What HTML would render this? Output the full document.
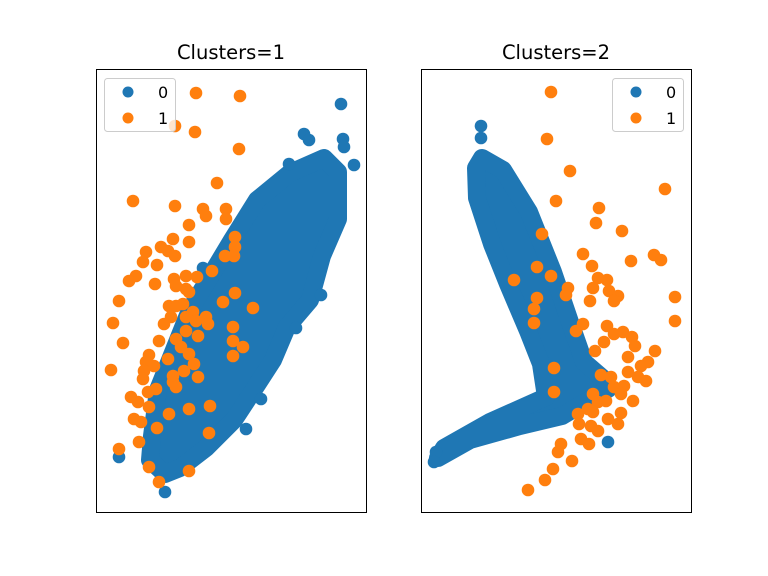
<!DOCTYPE html>
<html><head><meta charset="utf-8"><style>html,body{margin:0;padding:0;background:#fff}svg{display:block}text{font-family:"DejaVu Sans","Liberation Sans",sans-serif}</style></head>
<body>
<svg id="s" width="768" height="576" xmlns="http://www.w3.org/2000/svg">
<rect width="768" height="576" fill="#fff"/>
<g fill="#1f77b4" stroke="#1f77b4" stroke-width="18" stroke-linejoin="round">
<polygon points="150,460 152,436 158,390 190,310 232,240 257,200 290,173 324,158 338,172 338,219 322,256 310,300 287,327 273,360 251,394 234,420 206,448 180,468 165,474"/>
<polygon points="482,158 503,170 529,212 553,272 570,322 584,362 606,381 608,389 582,404 562,416 520,426 470,440 438,458 444,448 490,422 546,397 541,364 528,331 508,284 492,244 477,198 476,168"/>
</g>
<g id="b" fill="#1f77b4"></g>
<g id="o" fill="#ff7f0e"></g>
<rect x="96.5" y="69.5" width="270" height="443" fill="none" stroke="#000" stroke-width="1"/>
<rect x="421.5" y="69.5" width="270" height="443" fill="none" stroke="#000" stroke-width="1"/>
<text x="231" y="59" font-size="19.5" text-anchor="middle">Clusters=1</text>
<text x="556" y="59" font-size="19.5" text-anchor="middle">Clusters=2</text>
<g>
<rect x="104.5" y="78.5" width="71" height="53" rx="3" fill="#fff" fill-opacity="0.8" stroke="#ccc"/>
<circle cx="128" cy="92" r="5.5" fill="#1f77b4"/><circle cx="128" cy="118" r="5.5" fill="#ff7f0e"/>
<text x="158" y="98" font-size="16">0</text><text x="158" y="124" font-size="16">1</text>
<rect x="612.5" y="78.5" width="71" height="53" rx="3" fill="#fff" fill-opacity="0.8" stroke="#ccc"/>
<circle cx="636" cy="92" r="5.5" fill="#1f77b4"/><circle cx="636" cy="118" r="5.5" fill="#ff7f0e"/>
<text x="666" y="98" font-size="16">0</text><text x="666" y="124" font-size="16">1</text>
</g>
</svg>
<script>
var B=[[341,104],[304,134],[309,140],[343,139],[344,147],[354,165],[321,295],[296,328],[119,457],[165,492],[261,399],[246,429],[203,268],[289,164],[481,126],[481,138],[608,442],[436,452],[434,462]];
var O=[[196,93],[240,96],[175,126],[195,132],[239,149],[217,183],[133,201],[175,206],[203,209],[206,216],[226,209],[226,219],[189,225],[173,239],[189,242],[161,247],[168,251],[175,256],[146,252],[143,262],[157,265],[235,237],[235,247],[225,256],[234,256],[212,271],[197,277],[186,276],[174,279],[176,286],[186,289],[189,292],[136,276],[129,281],[155,284],[119,301],[169,306],[176,306],[183,304],[235,293],[223,302],[253,308],[193,312],[186,317],[171,317],[164,324],[196,321],[206,317],[208,324],[186,331],[198,336],[113,323],[123,343],[159,341],[176,339],[181,347],[233,327],[233,341],[243,347],[233,356],[189,354],[194,364],[149,355],[168,359],[111,370],[146,362],[154,366],[144,371],[143,379],[173,376],[184,371],[198,377],[173,382],[176,387],[148,392],[156,389],[131,397],[138,402],[149,407],[169,414],[189,409],[210,406],[134,419],[141,422],[157,428],[209,433],[139,442],[119,449],[149,467],[159,482],[189,471],
[551,92],[547,139],[570,171],[665,189],[556,201],[599,208],[596,223],[622,231],[542,234],[583,254],[654,255],[661,260],[631,261],[592,266],[537,267],[551,276],[514,280],[598,278],[607,280],[593,288],[568,288],[566,295],[609,291],[618,296],[614,301],[590,301],[537,298],[534,309],[534,323],[675,297],[675,321],[583,324],[576,331],[607,326],[614,334],[623,332],[632,337],[635,346],[604,342],[595,351],[655,351],[628,357],[648,362],[641,366],[554,368],[601,375],[611,377],[628,372],[638,377],[646,381],[614,387],[624,386],[621,394],[633,401],[554,392],[593,394],[606,401],[598,402],[588,409],[578,414],[593,412],[621,413],[608,419],[579,424],[591,426],[618,424],[598,431],[581,439],[589,444],[561,444],[558,452],[572,461],[553,469],[545,480],[528,490]];
function add(id,a){var g=document.getElementById(id),h='';a.forEach(function(p){h+='<circle cx="'+p[0]+'" cy="'+p[1]+'" r="6.3"/>';});g.innerHTML=h;}
add('b',B);add('o',O);
</script>
</body></html>
